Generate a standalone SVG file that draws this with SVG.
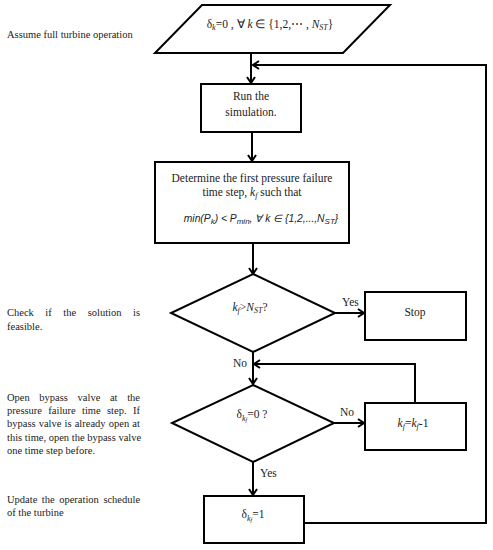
<svg xmlns="http://www.w3.org/2000/svg" width="493" height="550" viewBox="0 0 493 550">
<defs>
<marker id="arr" markerWidth="10" markerHeight="10" refX="8" refY="5" orient="auto" markerUnits="userSpaceOnUse">
<path d="M2,1 L8,5 L2,9" fill="none" stroke="#000" stroke-width="2"/>
</marker>
<style>
.shape{fill:#fff;stroke:#000;stroke-width:2}
.conn{fill:none;stroke:#000;stroke-width:2}
.t{font-family:"Liberation Serif","Times New Roman",serif;font-size:11.5px;fill:#222}
.c{text-anchor:middle}
.side{font-family:"Liberation Serif","Times New Roman",serif;font-size:10.5px;fill:#222}
.m{font-family:"Liberation Sans",Arial,sans-serif;font-style:italic;font-size:10.3px;fill:#222}
.i{font-style:italic}
.sub{font-size:8px}
</style>
</defs>
<rect width="493" height="550" fill="#fff"/>

<g id="connectors">
<line class="conn" x1="251" y1="53" x2="251" y2="83" marker-end="url(#arr)"/>
<path class="conn" d="M304,523 H486 V65 H253" marker-end="url(#arr)"/>
<line class="conn" x1="252" y1="132" x2="252" y2="161" marker-end="url(#arr)"/>
<line class="conn" x1="253" y1="243" x2="253" y2="274" marker-end="url(#arr)"/>
<line class="conn" x1="335" y1="313" x2="364" y2="313" marker-end="url(#arr)"/>
<line class="conn" x1="253" y1="352" x2="253" y2="384" marker-end="url(#arr)"/>
<path class="conn" d="M415,403 V364 H254" marker-end="url(#arr)"/>
<line class="conn" x1="334" y1="423" x2="364" y2="423" marker-end="url(#arr)"/>
<line class="conn" x1="253" y1="462" x2="253" y2="495" marker-end="url(#arr)"/>
<text class="t" x="342" y="306">Yes</text>
<text class="t" x="233" y="367">No</text>
<text class="t" x="340" y="416">No</text>
<text class="t" x="260" y="477">Yes</text>
</g>

<g id="start">
<polygon class="shape" points="202,5 390,5 343,53 155,53"/>
<text class="t c" x="270" y="28" style="font-size:11.5px">δ<tspan class="i sub" dy="2">k</tspan><tspan dy="-2">=0 , ∀ </tspan><tspan class="i">k</tspan> ∈ {1,2,⋯ , <tspan class="i">N</tspan><tspan class="i sub" dy="2">ST</tspan><tspan dy="-2">}</tspan></text>
</g>

<g id="run">
<rect class="shape" x="201" y="84" width="100" height="48"/>
<text class="t c" x="251" y="100">Run the</text>
<text class="t c" x="251" y="116">simulation.</text>
</g>

<g id="determine">
<rect class="shape" x="155" y="162" width="194" height="81"/>
<text class="t c" x="252" y="182">Determine the first pressure failure</text>
<text class="t c" x="252" y="196">time step, <tspan class="i">k</tspan><tspan class="i sub" dy="2">f</tspan><tspan dy="-2"> such that</tspan></text>
<text class="m c" x="261" y="222">min(P<tspan class="sub" dy="2">k</tspan><tspan dy="-2">) &lt; P</tspan><tspan class="sub" dy="2">min</tspan><tspan dy="-2">, ∀ k ∈ {1,2,...,N</tspan><tspan class="sub" dy="2">ST</tspan><tspan dy="-2">}</tspan></text>
</g>

<g id="check">
<polygon class="shape" points="253,274 335,313 253,352 171,313"/>
<text class="t c" x="250" y="311"><tspan class="i">k</tspan><tspan class="i sub" dy="2">f</tspan><tspan dy="-2">&gt;</tspan><tspan class="i">N</tspan><tspan class="i sub" dy="2">ST</tspan><tspan dy="-2">?</tspan></text>
</g>

<g id="stop">
<rect class="shape" x="365" y="292" width="101" height="48"/>
<text class="t c" x="415" y="316">Stop</text>
</g>

<g id="bypass">
<polygon class="shape" points="253,385 334,423 253,462 172,423"/>
<text class="t c" x="252" y="418">δ<tspan class="i sub" dy="3">k</tspan><tspan class="i" style="font-size:6px" dy="1">f</tspan><tspan dy="-4">=0 ?</tspan></text>
</g>

<g id="decrement">
<rect class="shape" x="365" y="403" width="101" height="47"/>
<text class="t c" x="413" y="427"><tspan class="i">k</tspan><tspan class="i sub" dy="2">f</tspan><tspan dy="-2">=</tspan><tspan class="i">k</tspan><tspan class="i sub" dy="2">f</tspan><tspan dy="-2">-1</tspan></text>
</g>

<g id="update">
<rect class="shape" x="204" y="496" width="100" height="47"/>
<text class="t c" x="253" y="518">δ<tspan class="i sub" dy="3">k</tspan><tspan class="i" style="font-size:6px" dy="1">f</tspan><tspan dy="-4">=1</tspan></text>
</g>

<g id="notes">
<text class="side" x="7" y="38">Assume full turbine operation</text>
<text class="side" x="7" y="316" style="word-spacing:8.9px">Check if the solution is</text>
<text class="side" x="7" y="330">feasible.</text>
<text class="side" x="7" y="401" style="word-spacing:7px">Open bypass valve at the</text>
<text class="side" x="7" y="414" style="word-spacing:3.7px">pressure failure time step. If</text>
<text class="side" x="7" y="427" style="word-spacing:0.5px">bypass valve is already open at</text>
<text class="side" x="7" y="441">this time, open the bypass valve</text>
<text class="side" x="7" y="454">one time step before.</text>
<text class="side" x="7" y="503" style="word-spacing:1.9px">Update the operation schedule</text>
<text class="side" x="7" y="516">of the turbine</text>
</g>
</svg>
